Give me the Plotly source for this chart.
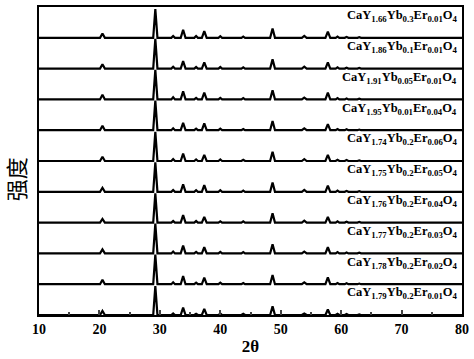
import plotly.graph_objects as go

# ---- data ----
samples = [
    ("1.66", "0.3", "0.01"),
    ("1.86", "0.1", "0.01"),
    ("1.91", "0.05", "0.01"),
    ("1.95", "0.01", "0.04"),
    ("1.74", "0.2", "0.06"),
    ("1.75", "0.2", "0.05"),
    ("1.76", "0.2", "0.04"),
    ("1.77", "0.2", "0.03"),
    ("1.78", "0.2", "0.02"),
    ("1.79", "0.2", "0.01"),
]  # top to bottom

peak_pos = [20.5, 29.25, 32.2, 33.85, 36.0, 37.35, 40.0, 43.8, 48.65, 53.9, 57.8, 59.4, 60.9, 63.0]
peak_width = [0.4, 0.35, 0.3, 0.4, 0.3, 0.4, 0.3, 0.3, 0.4, 0.4, 0.4, 0.3, 0.3, 0.3]

# relative intensity (fraction of panel height), top to bottom
intensities = [
    [0.14, 0.93, 0.06, 0.26, 0.06, 0.22, 0.05, 0.04, 0.30, 0.06, 0.20, 0.04, 0.03, 0.02],
    [0.14, 0.97, 0.06, 0.24, 0.05, 0.20, 0.05, 0.04, 0.30, 0.06, 0.20, 0.04, 0.03, 0.02],
    [0.15, 0.96, 0.07, 0.26, 0.05, 0.22, 0.05, 0.04, 0.30, 0.06, 0.22, 0.04, 0.03, 0.02],
    [0.14, 0.96, 0.06, 0.24, 0.05, 0.22, 0.05, 0.04, 0.30, 0.06, 0.20, 0.04, 0.03, 0.02],
    [0.14, 0.95, 0.06, 0.24, 0.05, 0.20, 0.05, 0.04, 0.30, 0.06, 0.20, 0.04, 0.03, 0.02],
    [0.13, 0.96, 0.06, 0.24, 0.05, 0.22, 0.05, 0.04, 0.30, 0.06, 0.20, 0.04, 0.03, 0.02],
    [0.12, 0.95, 0.05, 0.24, 0.05, 0.18, 0.04, 0.04, 0.30, 0.06, 0.18, 0.04, 0.03, 0.02],
    [0.13, 0.97, 0.06, 0.25, 0.05, 0.20, 0.05, 0.04, 0.30, 0.06, 0.20, 0.04, 0.03, 0.02],
    [0.14, 0.96, 0.06, 0.26, 0.05, 0.21, 0.05, 0.04, 0.30, 0.06, 0.22, 0.04, 0.03, 0.02],
    [0.13, 0.94, 0.05, 0.24, 0.04, 0.20, 0.05, 0.04, 0.28, 0.05, 0.18, 0.04, 0.03, 0.02],
]

x_min, x_max = 10, 80
x_ticks = [10, 20, 30, 40, 50, 60, 70, 80]

fig = go.Figure()
n = len(samples)
for i, (y_, yb, er) in enumerate(samples):
    offset = n - 1 - i
    xs = [x_min]
    ys = [offset]
    for p, w, h in zip(peak_pos, peak_width, intensities[i]):
        xs += [p - w, p, p + w]
        ys += [offset, offset + h, offset]
    xs.append(x_max)
    ys.append(offset)
    fig.add_trace(go.Scatter(x=xs, y=ys, mode="lines",
                             line=dict(color="black", width=2.2), showlegend=False))
    fig.add_annotation(
        x=0.993, xref="paper", y=offset + 0.7, yref="y",
        xanchor="right", yanchor="middle", showarrow=False,
        text=f"<b>CaY<sub>{y_}</sub>Yb<sub>{yb}</sub>Er<sub>{er}</sub>O<sub>4</sub></b>",
        font=dict(family="Liberation Serif", size=12.5, color="black"),
    )

fig.add_annotation(
    x=-0.055, xref="paper", y=0.44, yref="paper", xanchor="center", yanchor="middle",
    showarrow=False, textangle=-90, text="强度",
    font=dict(family="Noto Sans CJK SC", size=22, color="black"),
)

fig.update_layout(
    width=474, height=359,
    margin=dict(l=39, r=11, t=5, b=44),
    paper_bgcolor="white", plot_bgcolor="white",
    font=dict(family="Liberation Serif", color="black"),
)
fig.update_xaxes(
    range=[x_min, x_max], tickvals=x_ticks, ticktext=[f"<b>{t}</b>" for t in x_ticks],
    ticks="inside", ticklen=5, tickwidth=1.5,
    minor=dict(dtick=5, ticks="inside", ticklen=3, tickwidth=1.5, tick0=5),
    showline=True, linecolor="black", linewidth=2, mirror=True, showgrid=False,
    zeroline=False,
    tickfont=dict(family="Liberation Serif", size=14, color="black"),
    title=dict(text="<b>2θ</b>", font=dict(family="Liberation Serif", size=17), standoff=4),
)
fig.update_yaxes(
    range=[0, n], showticklabels=False, ticks="", showline=True, linecolor="black",
    linewidth=2, mirror=True, showgrid=False, zeroline=False,
)

fig.write_html("out.html")
